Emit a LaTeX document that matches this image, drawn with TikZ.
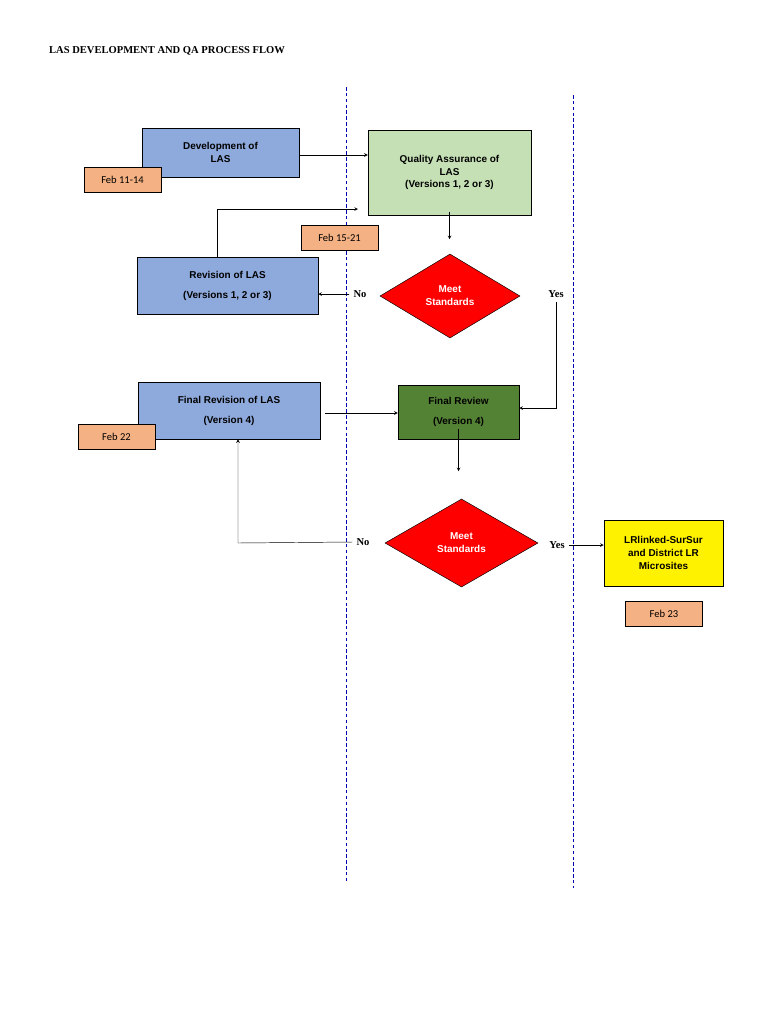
\documentclass[tikz,border=0pt]{standalone}
\usepackage{fontspec}
\setmainfont{Liberation Serif}
\newfontfamily\boxfont{Liberation Sans}
\newfontfamily\datefont{Carlito}
\usetikzlibrary{shapes.geometric, arrows}
\definecolor{lasblue}{HTML}{8EA9DB}
\definecolor{qagreen}{HTML}{C5E0B4}
\definecolor{dkgreen}{HTML}{548235}
\definecolor{datefill}{HTML}{F4B183}
\tikzstyle{process} = [rectangle, draw=black, text centered, align=center, inner sep=1pt, font=\boxfont\bfseries\fontsize{8.5}{11}\selectfont]
\tikzstyle{datebox} = [rectangle, draw=black, fill=datefill, minimum width=2.3cm, minimum height=0.74cm, font=\datefont\fontsize{9}{11}\selectfont]
\tikzstyle{decision} = [diamond, draw=black, fill=red, text=white, align=center, aspect=1.65, inner sep=1pt, font=\boxfont\bfseries\fontsize{8.5}{11}\selectfont]
\tikzstyle{answer} = [font=\bfseries\fontsize{9}{11}\selectfont]
\tikzstyle{arrow} = [->,>=stealth]
\tikzstyle{lane} = [blue!70!black, densely dashed, thin]

\begin{document}
\begin{tikzpicture}[x=0.03cm, y=-0.03cm]
    \useasboundingbox (0,0) rectangle (768,1024);

    \node (title) [anchor=west, font=\bfseries\fontsize{9}{11}\selectfont] at (45,51) {LAS DEVELOPMENT AND QA PROCESS FLOW};

    \draw [lane] (346,87) -- (346,882);
    \draw [lane] (573,95) -- (573,888);

    \node (dev) [process, fill=lasblue, minimum width=4.71cm, minimum height=1.47cm] at (220.5,152.5) {Development of\\LAS};
    \node (d1) [datebox] at (122.5,179.5) {Feb 11-14};
    \node (qa) [process, fill=qagreen, minimum width=4.89cm, minimum height=2.55cm] at (449.5,172.5) {Quality Assurance of\\LAS\\(Versions 1, 2 or 3)};
    \node (d2) [datebox] at (339.5,238) {Feb 15-21};
    \node (rev) [process, fill=lasblue, minimum width=5.43cm, minimum height=1.71cm] at (227.5,285.5) {Revision of LAS\\[6pt](Versions 1, 2 or 3)};
    \node (ms1) [decision, minimum width=4.2cm, minimum height=2.52cm] at (450,296) {Meet\\Standards};
    \node (no1) [answer] at (360,294) {No};
    \node (yes1) [answer] at (556,294) {Yes};
    \node (frev) [process, fill=lasblue, minimum width=5.46cm, minimum height=1.71cm] at (229,410.5) {Final Revision of LAS\\[6pt](Version 4)};
    \node (d3) [datebox] at (116.5,436.5) {Feb 22};
    \node (fr) [process, fill=dkgreen, minimum width=3.63cm, minimum height=1.62cm] at (458.5,412) {Final Review\\[6pt](Version 4)};
    \node (ms2) [decision, minimum width=4.59cm, minimum height=2.64cm] at (461.5,543) {Meet\\Standards};
    \node (no2) [answer] at (363,542) {No};
    \node (yes2) [answer] at (557,545) {Yes};
    \node (lr) [process, fill=yellow, minimum width=3.57cm, minimum height=1.98cm] at (663.5,553) {LRlinked-SurSur\\and District LR\\Microsites};
    \node (d4) [datebox] at (664,613.5) {Feb 23};

    \coordinate (qain) at (358,209);
    \coordinate (revup) at (217,209);
    \coordinate (yesdn) at (556,408);
    \coordinate (nocorner) at (238,543);

    \draw [arrow] (dev.east |- 0,155) -- (qa.west |- 0,155);
    \draw [arrow] (qa.south) ++(0,-3) -- ++(0,27);
    \draw [arrow] (rev.north -| revup) -- (revup) -- (qain);
    \draw [arrow] (no1.west) -- (rev.east |- no1);
    \draw [arrow] (yes1.south) -- (yesdn) -- (fr.east |- yesdn);
    \draw [arrow] (frev.east |- 0,413) ++(5,0) -- (fr.west |- 0,413);
    \draw [arrow] (fr.south) ++(0,-10) -- ++(0,42);
    \draw [arrow] (no2.west) -- (nocorner) -- (frev.south -| nocorner);
    \draw [arrow] (yes2.east) -- (lr.west |- yes2);

\end{tikzpicture}
\end{document}
